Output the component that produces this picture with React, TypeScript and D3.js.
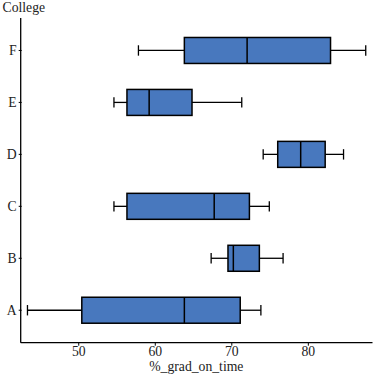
import React from "react";
import * as d3 from "d3";

const categories = ["A", "B", "C", "D", "E", "F"];
const whiskerLow = [43.3, 67.3, 54.6, 74.1, 54.6, 57.8];
const q1 = [50.4, 69.5, 56.3, 76.0, 56.3, 63.8];
const median = [63.8, 70.2, 67.7, 79.0, 59.2, 72.0];
const q3 = [71.1, 73.6, 72.3, 82.2, 64.8, 82.9];
const whiskerHigh = [73.8, 76.7, 74.9, 84.6, 71.3, 87.5];
const xTicks = [50, 60, 70, 80];

const W = 381;
const H = 381;
const left = 20.7;
const right = 372.5;
const top = 18;
const bottom = 342.7;
const textStyle = { fontFamily: "Liberation Serif, Times New Roman, Times, serif", fontSize: "13.7px" };

export default function App() {
  const lo = d3.min(whiskerLow)!;
  const hi = d3.max(whiskerHigh)!;
  const pad = (hi - lo) * 0.02;
  const x = d3.scaleLinear().domain([lo - pad, hi + pad]).range([left, right]);
  const y = d3
    .scalePoint<string>()
    .domain([...categories].reverse())
    .range([top, bottom])
    .padding(0.625);
  const step = y.step();
  const boxH = step * 0.5;
  const capH = step * 0.2;

  return (
    <svg
      width={W}
      height={H}
      style={{ position: "absolute", left: 0, top: 0, background: "#fff" }}
    >
      {categories.map((c, i) => {
        const cy = y(c)!;
        return (
          <g key={c} stroke="#000" strokeWidth={1.3}>
            <line x1={x(whiskerLow[i])} x2={x(q1[i])} y1={cy} y2={cy} />
            <line x1={x(q3[i])} x2={x(whiskerHigh[i])} y1={cy} y2={cy} />
            <line x1={x(whiskerLow[i])} x2={x(whiskerLow[i])} y1={cy - capH / 2} y2={cy + capH / 2} />
            <line x1={x(whiskerHigh[i])} x2={x(whiskerHigh[i])} y1={cy - capH / 2} y2={cy + capH / 2} />
            <rect
              x={x(q1[i])}
              y={cy - boxH / 2}
              width={x(q3[i]) - x(q1[i])}
              height={boxH}
              fill="#4878BE"
              strokeWidth={1.5}
            />
            <line x1={x(median[i])} x2={x(median[i])} y1={cy - boxH / 2} y2={cy + boxH / 2} strokeWidth={1.5} />
          </g>
        );
      })}
      <line x1={left} x2={left} y1={top} y2={bottom} stroke="#000" strokeWidth={1.3} />
      <line x1={left} x2={right} y1={bottom} y2={bottom} stroke="#000" strokeWidth={1.3} />
      {xTicks.map((t) => (
        <g key={t}>
          <line x1={x(t)} x2={x(t)} y1={bottom} y2={bottom + 3} stroke="#000" />
          <text x={x(t)} y={356} textAnchor="middle" style={textStyle} fill="#222">
            {t}
          </text>
        </g>
      ))}
      {categories.map((c) => (
        <g key={c}>
          <line x1={left - 2} x2={left + 1} y1={y(c)!} y2={y(c)!} stroke="#000" />
          <text x={left - 4} y={y(c)! + 4.7} textAnchor="end" style={textStyle} fill="#222">
            {c}
          </text>
        </g>
      ))}
      <text x={2.5} y={12} style={textStyle} fill="#222">
        College
      </text>
      <text x={196.3} y={371} textAnchor="middle" style={textStyle} fill="#222">
        %_grad_on_time
      </text>
    </svg>
  );
}
